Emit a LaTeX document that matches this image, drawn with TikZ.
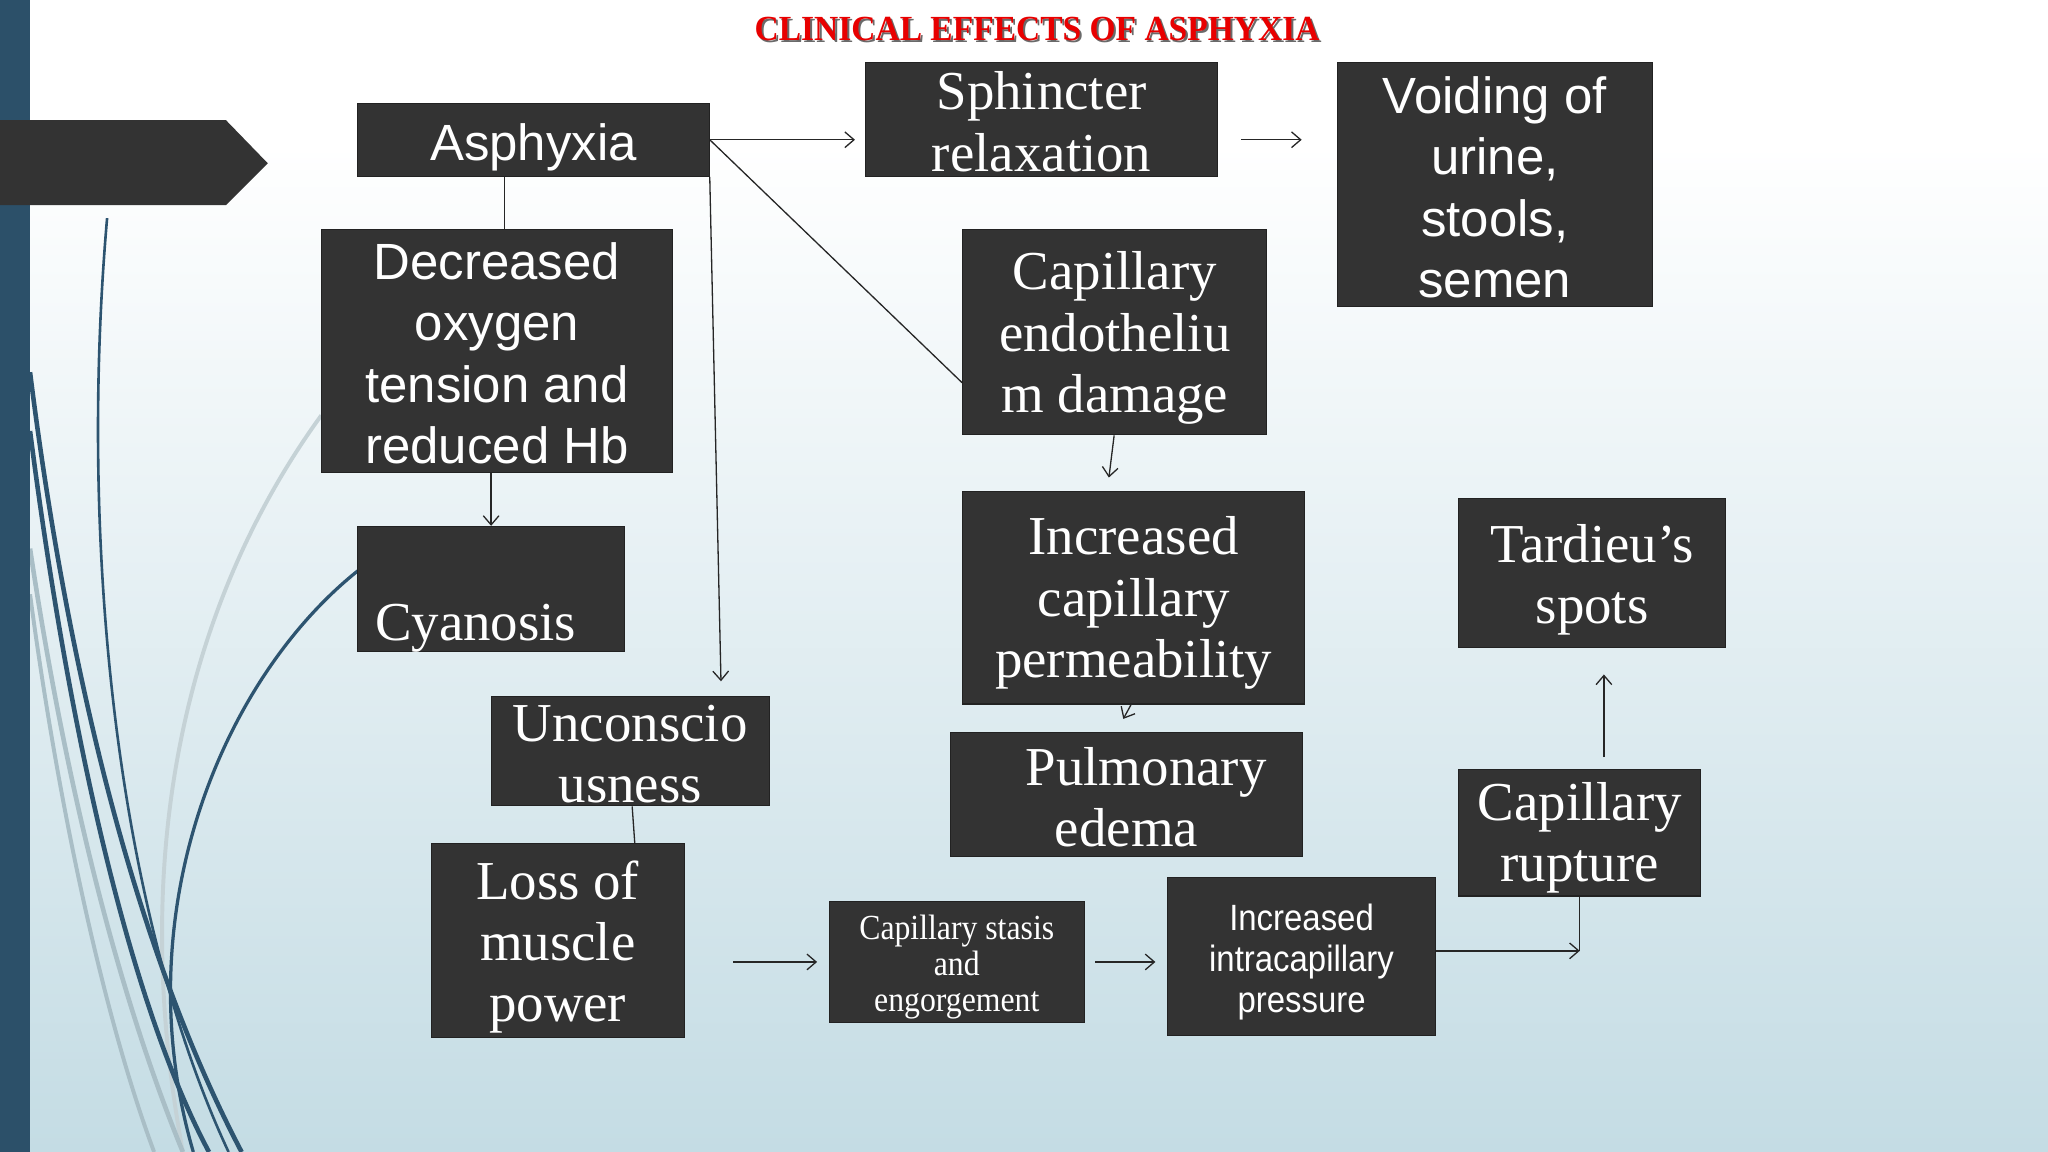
\documentclass[tikz,border=0pt]{standalone}
\usepackage{fontspec}
\setmainfont{Liberation Serif}
\newfontfamily\sansf{Liberation Sans}
\newfontfamily\condserif{Liberation Serif}[FakeStretch=0.9]
\newfontfamily\condsans{Liberation Sans}[FakeStretch=0.9]
\newfontfamily\titlef{Liberation Serif}[FakeStretch=0.95]
\usetikzlibrary{arrows.meta}
\definecolor{boxc}{HTML}{333333}
\definecolor{boxe}{HTML}{222222}
\definecolor{linec}{HTML}{262626}
\definecolor{bgbot}{HTML}{C4DCE4}
\definecolor{barc}{HTML}{2C5069}
\definecolor{curvd}{HTML}{2D5470}
\definecolor{curvg}{HTML}{A9BEC6}
\definecolor{curvl}{HTML}{C5D2D6}
\definecolor{titler}{HTML}{E80000}
\definecolor{shadowc}{HTML}{6A6A6A}
\newcommand{\up}[1]{\rule{0pt}{#1}}
\tikzset{
  box/.style={fill=boxc, draw=boxe, line width=0.8pt, text=white, inner sep=0pt, align=center},
  sb/.style={box, font=\fontsize{42}{47}\selectfont},
  ss/.style={box, font=\sansf\fontsize{39}{47}\selectfont},
  conn/.style={draw=linec, line width=1pt},
  arr/.style={conn, -{Straight Barb[length=7pt,width=12pt]}},
}
\begin{document}
\begin{tikzpicture}[x=1pt,y=-1pt]
\useasboundingbox (0,0) rectangle (1568,882);
% background
\fill[white] (0,0) rectangle (1568,882);
\shade[top color=white, bottom color=bgbot] (0,110) rectangle (1568,882);
% decorative curves
\draw[curvl, line width=3pt] (246,318) .. controls (150,450) and (95,640) .. (140,882);
\draw[curvg, line width=3.5pt] (23,420) .. controls (50,600) and (90,760) .. (140,882);
\draw[curvg, line width=3pt] (23,455) .. controls (45,620) and (80,780) .. (118,882);
\draw[curvd, line width=2pt] (82,167) .. controls (60,420) and (90,700) .. (175,882);
\draw[curvd, line width=3.5pt] (23,285) .. controls (50,500) and (100,720) .. (185,882);
\draw[curvd, line width=3.5pt] (23,330) .. controls (50,540) and (95,760) .. (160,882);
\draw[curvd, line width=2.5pt] (274,437) .. controls (170,520) and (95,700) .. (148,882);
% left bar and pointer
\fill[barc] (0,0) rectangle (23,882);
\fill[boxc] (0,92) -- (173,92) -- (205,125) -- (173,157) -- (0,157) -- cycle;
% title
\node[text=shadowc, font=\titlef\bfseries\fontsize{27}{30}\selectfont] (titsh) at (795.6,23.6) {CLINICAL EFFECTS OF ASPHYXIA};
\node[text=titler, font=\titlef\bfseries\fontsize{27}{30}\selectfont] (title) at (794,22) {CLINICAL EFFECTS OF ASPHYXIA};
% boxes
\node[ss, minimum width=269pt, minimum height=56pt] (asph) at (408.5,107) {\up{40pt}Asphyxia};
\node[sb, minimum width=269pt, minimum height=87pt] (sph) at (797.5,91.5) {\up{32.7pt}Sphincter\\relaxation};
\node[ss, minimum width=241pt, minimum height=187pt] (void) at (1144.5,141.5) {\up{32pt}Voiding of\\urine,\\stools,\\semen};
\node[ss, minimum width=269pt, minimum height=186pt] (dec) at (380.5,269) {\up{31pt}Decreased\\oxygen\\tension and\\reduced Hb};
\node[sb, minimum width=233pt, minimum height=157pt] (endo) at (853.5,254.5) {\up{37.7pt}Capillary\\endotheliu\\m damage};
\node[sb, minimum width=204pt, minimum height=96pt] (cyan) at (376,451) {};
\node[anchor=base west, text=white, inner sep=0pt, font=\fontsize{42}{47}\selectfont] (cyantxt) at (287,490) {Cyanosis};
\node[sb, minimum width=213pt, minimum height=84pt] (unc) at (482.5,575) {\up{32.7pt}Unconscio\\usness};
\node[sb, minimum width=262pt, minimum height=163pt] (incp) at (868,457.5) {\up{37.7pt}Increased\\capillary\\permeability};
\node[sb, minimum width=204pt, minimum height=114pt] (tard) at (1219,439) {\up{38.7pt}Tardieu’s\\spots};
\node[sb, minimum width=269pt, minimum height=95pt] (pulm) at (862.5,608.5) {\up{32.7pt}\hspace*{30pt}Pulmonary\\edema};
\node[sb, minimum width=185pt, minimum height=97pt] (rup) at (1209.5,637.5) {\up{36.7pt}Capillary\\rupture};
\node[sb, minimum width=194pt, minimum height=148pt] (loss) at (427,720) {\up{39.7pt}Loss of\\muscle\\power};
\node[box, font=\condserif\fontsize{27}{27.5}\selectfont, minimum width=195pt, minimum height=93pt] (stas) at (732.5,736.5) {\up{26.4pt}Capillary stasis\\and\\engorgement};
\node[box, font=\condsans\fontsize{28}{31.5}\selectfont, minimum width=205pt, minimum height=121pt] (icp) at (996.5,732.5) {\up{28pt}Increased\\intracapillary\\pressure};
% connectors
\draw[arr] (asph.east) -- ([xshift=-8pt]asph.east -| sph.west);
\draw[arr] ([xshift=18pt]sph.east |- asph.east) -- ([xshift=-27pt]void.west |- asph.east);
\draw[conn] (asph.east) -- ([yshift=-38.5pt]endo.west);
\draw[conn] ([xshift=-22.5pt]asph.south) -- ([xshift=-22.5pt]asph.south |- dec.north);
\draw[arr] (asph.south east) -- ([xshift=69.5pt,yshift=11pt]unc.north);
\draw[arr] (dec.south -| cyan.north) -- (cyan.north);
\draw[conn] ([xshift=1.5pt]unc.south) -- ([xshift=59pt]loss.north);
\draw[arr] ([xshift=37pt]loss.east |- stas.west) -- ([xshift=-9pt]stas.west);
\draw[arr] ([xshift=8pt]stas.east) -- ([xshift=-9pt]icp.west |- stas.east);
\coordinate (jn) at ([yshift=4.5pt]icp.east -| rup.south);
\draw[arr] ([yshift=4.5pt]icp.east) -- (jn);
\draw[conn] (rup.south) -- (jn);
\draw[arr] ([xshift=18.5pt,yshift=9pt]rup.north) -- ([xshift=9pt,yshift=-20pt]tard.south);
\draw[arr] ([xshift=-0.5pt]endo.south) -- ([xshift=-19pt,yshift=10pt]incp.north);
\draw[arr] ([xshift=-2pt]incp.south) -- ([xshift=-8pt,yshift=-11pt]incp.south);
\end{tikzpicture}
\end{document}
